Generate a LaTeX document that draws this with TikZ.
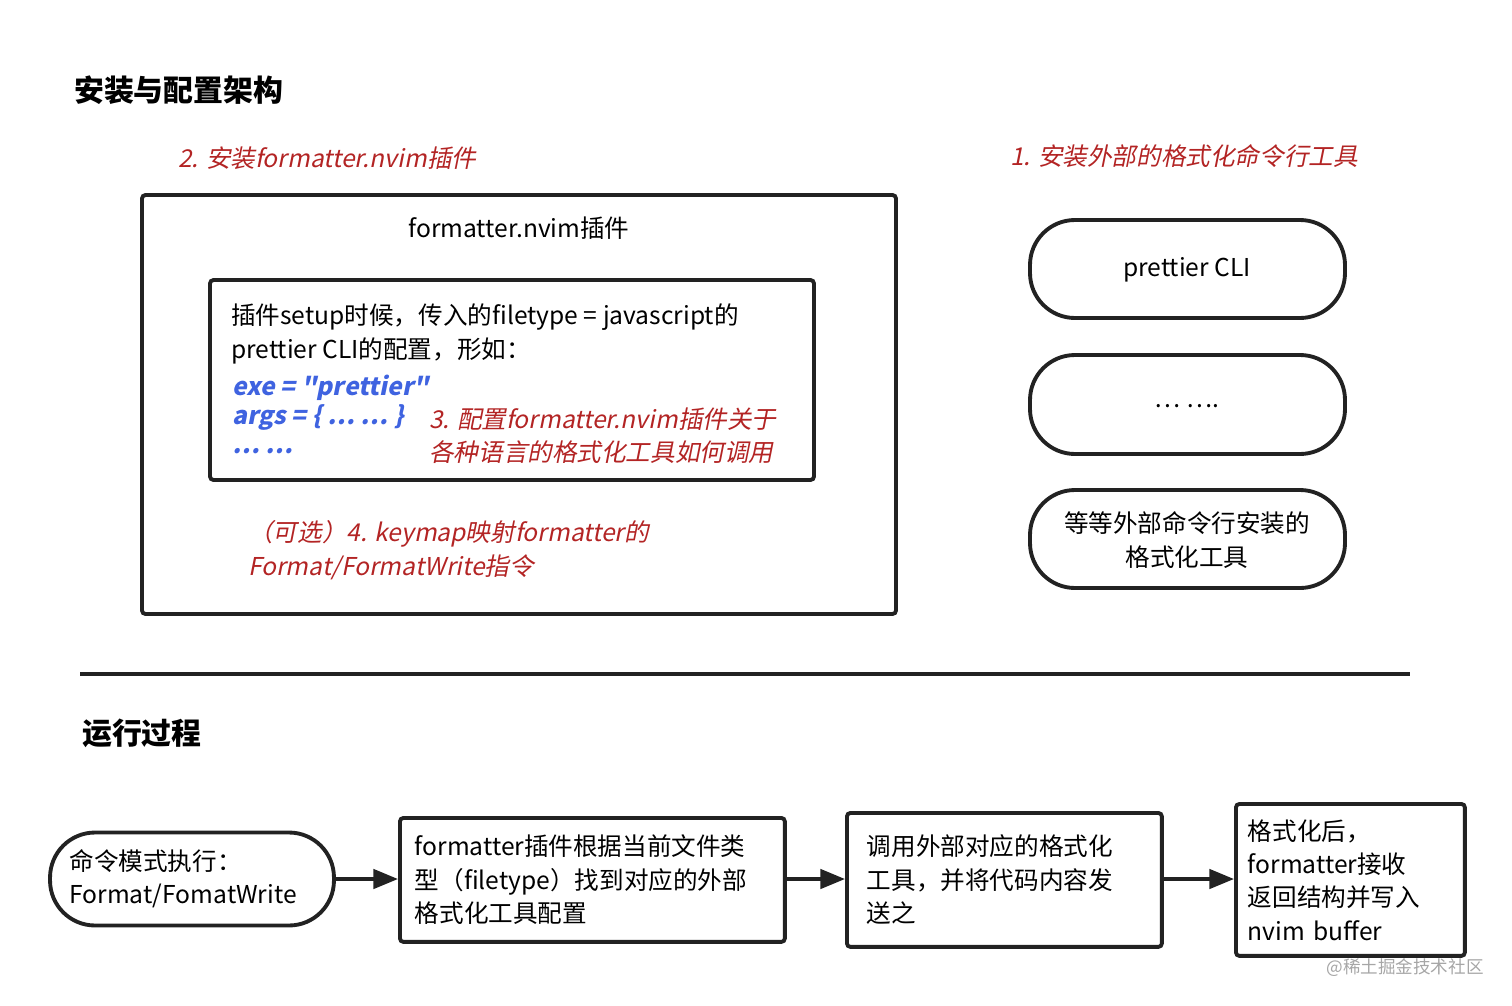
\documentclass[tikz,border=0pt]{standalone}
\usepackage{fontspec}
\setmainfont{Noto Sans CJK SC}
\newfontfamily\cjkit[FakeSlant=0.2]{Noto Sans CJK SC}
\XeTeXlinebreaklocale "zh"
\usetikzlibrary{arrows.meta}
\definecolor{myred}{HTML}{B32424}
\definecolor{myblue}{HTML}{3F63E0}
\definecolor{line}{HTML}{222222}
\tikzset{x=0.02cm,y=-0.02cm,
 box/.style={draw=line,line width=2.2pt,rounded corners=2pt},
 pill/.style={draw=line,line width=2.2pt,rounded corners=0.9cm},
 red/.style={text=myred,font=\cjkit\fontsize{14}{19}\selectfont,anchor=west,align=left},
 txt/.style={font=\fontsize{14}{19}\selectfont},
 ttl/.style={font=\bfseries\fontsize{17}{20}\selectfont,anchor=west},
 arr/.style={draw=line,line width=2pt,-{Triangle[length=14pt,width=11pt]}}}
\begin{document}
\begin{tikzpicture}
\useasboundingbox (0,0) rectangle (1512,1005);
\node[ttl] (t1) at (68,90) {安装与配置架构};
\node[red] (r2) at (172,158) {2. 安装formatter.nvim插件};
\draw[box] (142,195) rectangle (896,614);
\node[txt] (fn) at (519,228) {formatter.nvim插件};
\draw[box] (210,280) rectangle (814,480);
\node[txt,anchor=west,align=left] (cfg) at (225,334) {插件setup时候，传入的filetype = javascript的\\prettier CLI的配置，形如：};
\node[anchor=west,align=left,text=myblue,font=\cjkit\bfseries\fontsize{14}{16.5}\selectfont] (code) at (226,414) {exe = "prettier"\\args = \{ … … \}\\… …};
\node[red] (r3) at (423,436) {3. 配置formatter.nvim插件关于\\各种语言的格式化工具如何调用};
\node[red] (r4) at (242,550) {（可选）4. keymap映射formatter的\\Format/FormatWrite指令};
\node[red] (r1) at (1004,156) {1. 安装外部的格式化命令行工具};
\draw[pill] (1030,220) rectangle (1345,318);
\node[txt] (p1) at (1187,270) {prettier CLI};
\draw[pill] (1030,355) rectangle (1345,454);
\node[txt] (p2) at (1187,406) {… ….};
\draw[pill] (1030,490) rectangle (1345,588);
\node[txt,align=center] (p3) at (1187,540) {等等外部命令行安装的\\格式化工具};
\coordinate (la) at (80,674); \coordinate (lb) at (1410,674);
\draw[line width=2.2pt,draw=line] (la) -- (lb);
\node[ttl] (t2) at (76,733) {运行过程};
\node[pill,txt,minimum width=5.68cm,minimum height=1.86cm,align=left,text width=4.9cm] (b1) at (192,879) {命令模式执行：\\Format/FomatWrite};
\node[box,txt,anchor=north west,minimum width=7.7cm,minimum height=2.48cm,align=left,text width=7.1cm] (b2) at (398,816) {formatter插件根据当前文件类\\型（filetype）找到对应的外部\\格式化工具配置};
\node[box,txt,anchor=north west,minimum width=6.3cm,minimum height=2.68cm,align=left,text width=5.5cm] (b3) at (845,811) {调用外部对应的格式化\\工具，并将代码内容发\\送之};
\node[box,txt,anchor=north west,minimum width=4.58cm,minimum height=3.04cm,align=left,text width=4.1cm] (b4) at (1234,802) {格式化后，\\formatter接收\\返回结构并写入\\nvim buffer};
\draw[arr] (b1.east) -- (b2.west|-b1.east);
\draw[arr] (b2.east|-b1.east) -- (b3.west|-b1.east);
\draw[arr] (b3.east|-b1.east) -- (b4.west|-b1.east);
\node[text=gray!70,font=\fontsize{10}{12}\selectfont] (wm) at (1405,968) {@稀土掘金技术社区};
\end{tikzpicture}
\end{document}
